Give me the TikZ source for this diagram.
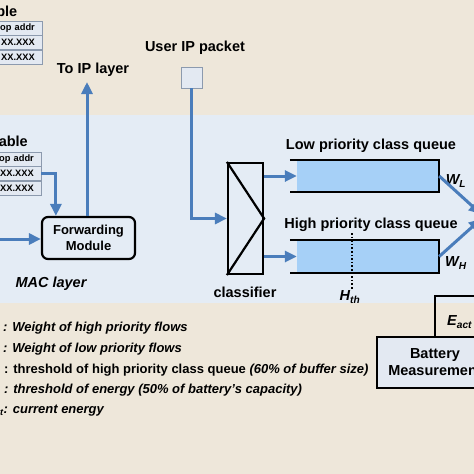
\documentclass[tikz,border=0pt]{standalone}
\usepackage{fontspec}
\setmainfont{Liberation Sans}
\usetikzlibrary{arrows.meta, positioning, calc}
\definecolor{sandbg}{HTML}{EEE7DA}
\definecolor{macbg}{HTML}{E4ECF5}
\definecolor{cellblue}{HTML}{E3E9F2}
\definecolor{cellline}{HTML}{8C9AAE}
\definecolor{qblue}{HTML}{A6D0F7}
\definecolor{flowblue}{HTML}{4A7DBB}
\newcommand{\bigfont}{\fontsize{14.5}{17}\selectfont\bfseries}
\newcommand{\midfont}{\fontsize{13}{15.5}\selectfont\bfseries}
\newcommand{\cellfont}{\fontsize{9.3}{10}\selectfont\bfseries}
\tikzset{
    txt/.style={font=\bigfont, inner sep=0pt},
    legend/.style={font=\midfont, inner sep=0pt, anchor=west},
    cell/.style={rectangle, draw=cellline, fill=cellblue, font=\cellfont, text width=40pt, align=right, inner xsep=7pt, inner ysep=0pt, minimum height=14pt, anchor=north east},
    module/.style={rectangle, rounded corners=6pt, draw, line width=2.2pt, fill=macbg, font=\midfont, align=center, minimum width=93pt, minimum height=42pt},
    flow/.style={-{Triangle[length=12pt, width=11pt]}, line width=3pt, flowblue},
    queue/.style={rectangle, fill=qblue, minimum width=142pt, minimum height=32pt, inner sep=0pt},
    wall/.style={line width=2.2pt},
    box/.style={rectangle, draw, line width=1.6pt, font=\bigfont, align=center}
}
\begin{document}
\begin{tikzpicture}[x=1pt, y=-1pt]
    \path[use as bounding box, clip] (0,0) rectangle (474,474);
    % Background bands
    \fill[sandbg] (0,0) rectangle (474,474);
    \fill[macbg] (0,115) rectangle (474,303);

    % Tables
    \node[txt, anchor=east] (tblA) at (17.5,11) {ble};
    \node[cell] (ta1) at (42,21) {op addr};
    \node[cell, below=0pt of ta1] (ta2) {XX.XXX};
    \node[cell, below=0pt of ta2] (ta3) {XX.XXX};
    \node[txt, anchor=east] (tblB) at (28,141) {able};
    \node[cell] (tb1) at (41,152) {op addr};
    \node[cell, below=0pt of tb1] (tb2) {XX.XXX};
    \node[cell, below=0pt of tb2] (tb3) {XX.XXX};

    % MAC layer
    \node[module] (fwd) at (88.5,238) {Forwarding\\Module};
    \node[txt, font=\bigfont\itshape] (mac) at (51,284) {MAC layer};
    \node[txt] (toip) at (93,70) {To IP layer};
    \coordinate (ipup) at (87,82);
    \coordinate (macin) at (-5,239);
    \draw[flow] (tb2.east) -| ([xshift=15pt]fwd.north west);
    \draw[flow] (ipup |- fwd.north) -- (ipup);
    \draw[flow] (macin) -- (macin -| fwd.west);

    % Classifier
    \node[txt] (usr) at (195,48) {User IP packet};
    \node[rectangle, draw=cellline, fill=cellblue, minimum size=21pt, inner sep=0pt, line width=0.8pt] (pkt) at (191.5,77.5) {};
    \node[rectangle, draw, line width=2.2pt, minimum width=35pt, minimum height=111pt, inner sep=0pt] (cls) at (245.5,218.5) {};
    \draw[wall] (cls.north west) -- (cls.east) -- (cls.south west);
    \node[txt] (clsname) at (245,292) {classifier};
    \draw[flow] (pkt.south) |- (cls.west);

    % Queues
    \node[queue] (lowq) at (368,176) {};
    \node[queue] (highq) at (368,256.5) {};
    \node[txt] (lowname) at (371,146) {Low priority class queue};
    \node[txt] (highname) at (371,225) {High priority class queue};
    \foreach \q in {lowq,highq} \draw[wall] ([xshift=-7pt]\q.north west) -- (\q.north east) -- (\q.south east) -- ([xshift=-7pt]\q.south west);
    \foreach \q in {lowq,highq} \draw[flow] (cls.east |- \q.west) -- (\q.west);
    \node[txt, font=\bigfont\itshape] (hth) at (350,297) {H\textsubscript{th}};
    \coordinate (hthtop) at (352,233);
    \draw[dotted, line width=1.6pt] (hthtop) -- (hthtop |- hth.north);
    \node[txt, font=\bigfont\itshape] (wl) at (456,181) {W\textsubscript{L}};
    \node[txt, font=\bigfont\itshape] (wh) at (456,263) {W\textsubscript{H}};
    \coordinate (lowtip) at (481,214);
    \coordinate (hightip) at (481,219);
    \draw[flow] (lowq.east) -- (lowtip);
    \draw[flow] (highq.east) -- (hightip);

    % Energy
    \node[box, anchor=north west, minimum width=80pt, minimum height=42pt] (eact) at (434,295) {};
    \node[txt, font=\bigfont\itshape, anchor=west] (eactname) at (447,322) {E\textsubscript{act}};
    \node[box, fill=cellblue, minimum width=116pt, minimum height=51pt] (bat) at (435,362.5) {Battery\\Measurement};

    % Legend
    \node[legend] (lg1) at (3,328) {\itshape : Weight of high priority flows};
    \node[legend] (lg2) at (3,349) {\itshape : Weight of low priority flows};
    \node[legend] (lg3) at (4,370) {: threshold of high priority class queue \textit{(60\% of buffer size)}};
    \node[legend] (lg4) at (4,390) {\itshape : threshold of energy (50\% of battery's capacity)};
    \node[legend] (lg5) at (0,411) {\itshape \textsubscript{t}: current energy};
\end{tikzpicture}
\end{document}
